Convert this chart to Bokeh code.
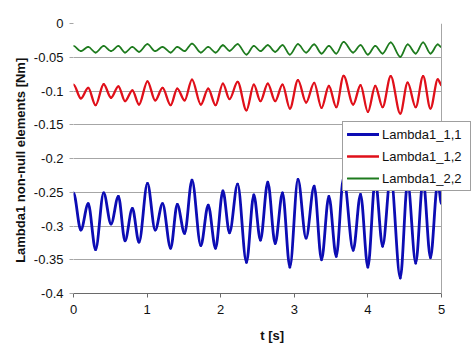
import numpy as np
from bokeh.plotting import figure
from bokeh.models import Range1d, FixedTicker, Span, BoxAnnotation, ColumnDataSource
from bokeh.embed import file_html
from bokeh.resources import INLINE

# time instants (s) of the extrema
t = [0.00, 0.10, 0.20, 0.30, 0.41, 0.51, 0.61, 0.70, 0.80, 0.89,
     1.005, 1.11, 1.21, 1.32, 1.41, 1.51, 1.61, 1.73, 1.83, 1.93,
     2.03, 2.12, 2.23, 2.35, 2.45, 2.54, 2.64, 2.74, 2.84, 2.94,
     3.05, 3.16, 3.27, 3.37, 3.47, 3.57, 3.67, 3.80, 3.90, 4.00,
     4.10, 4.20, 4.31, 4.44, 4.54, 4.65, 4.75, 4.85, 4.95, 5.00]

lambda_11 = [-0.251, -0.306, -0.267, -0.335, -0.251, -0.297, -0.256, -0.322, -0.274, -0.324,
             -0.237, -0.306, -0.267, -0.333, -0.268, -0.311, -0.232, -0.329, -0.269, -0.333,
             -0.248, -0.310, -0.238, -0.354, -0.254, -0.321, -0.235, -0.326, -0.251, -0.361,
             -0.231, -0.318, -0.241, -0.350, -0.256, -0.345, -0.228, -0.336, -0.253, -0.361,
             -0.232, -0.330, -0.225, -0.377, -0.235, -0.355, -0.232, -0.347, -0.235, -0.267]

lambda_12 = [-0.0905, -0.111, -0.0955, -0.121, -0.090, -0.110, -0.093, -0.115, -0.099, -0.120,
             -0.0856, -0.114, -0.0955, -0.121, -0.0965, -0.114, -0.083, -0.120, -0.0965, -0.121,
             -0.089, -0.112, -0.0866, -0.1286, -0.0905, -0.115, -0.089, -0.115, -0.0905, -0.126,
             -0.084, -0.117, -0.088, -0.125, -0.0926, -0.124, -0.0777, -0.120, -0.0915, -0.131,
             -0.0926, -0.124, -0.078, -0.1335, -0.0876, -0.124, -0.078, -0.126, -0.0827, -0.0915]

lambda_22 = [-0.0332, -0.041, -0.0347, -0.043, -0.0332, -0.041, -0.0332, -0.043, -0.0347, -0.042,
             -0.0307, -0.041, -0.0347, -0.043, -0.0347, -0.041, -0.0297, -0.043, -0.0347, -0.043,
             -0.0322, -0.0405, -0.0307, -0.046, -0.0332, -0.041, -0.032, -0.042, -0.032, -0.046,
             -0.0307, -0.043, -0.031, -0.0445, -0.0332, -0.0445, -0.0273, -0.043, -0.032, -0.046,
             -0.0332, -0.0445, -0.028, -0.0495, -0.031, -0.0445, -0.028, -0.0445, -0.031, -0.035]

series_names = ["Lambda1_1,1", "Lambda1_1,2", "Lambda1_2,2"]
x_ticks = [0, 1, 2, 3, 4, 5]
y_ticks = [0, -0.05, -0.1, -0.15, -0.2, -0.25, -0.3, -0.35, -0.4]
y_tick_labels = ["0", "-0.05", "-0.1", "-0.15", "-0.2", "-0.25", "-0.3", "-0.35", "-0.4"]
T_END = 5

FONT = "Liberation Sans"
TXT = "#111111"

# frame runs to the right edge so the legend may overhang the plot area (x = 5)
p = figure(width=474, height=353, output_backend="svg", toolbar_location=None,
           x_range=Range1d(0, T_END * 401 / 368), y_range=Range1d(-0.4, 0),
           min_border_left=73, min_border_right=0, min_border_top=23, min_border_bottom=60)
p.outline_line_color = None
p.background_fill_color = "white"
p.border_fill_color = "white"

# white mask right of the plot area (hides grid lines there)
p.add_layout(BoxAnnotation(left=T_END, fill_color="white", fill_alpha=1.0,
                           line_color=None, level="glyph"))


def smooth_source(vals):
    tt = np.array(t, dtype=float)
    v = np.array(vals, dtype=float)
    t0, t1 = tt[:-1], tt[1:]
    dt = t1 - t0
    return ColumnDataSource(dict(x0=t0, y0=v[:-1], x1=t1, y1=v[1:],
                                 cx0=t0 + dt / 3, cy0=v[:-1], cx1=t1 - dt / 3, cy1=v[1:]))


styles = [("#0c0cb4", 2.8), ("#e0101a", 2.3), ("#1e7b1e", 1.8)]
for vals, name, (col, lw) in zip([lambda_11, lambda_12, lambda_22], series_names, styles):
    p.bezier(x0="x0", y0="y0", x1="x1", y1="y1", cx0="cx0", cy0="cy0", cx1="cx1", cy1="cy1",
             source=smooth_source(vals), line_color=col, line_width=lw, line_cap="round",
             legend_label=name)

# right border of plot area
p.add_layout(Span(location=T_END, dimension="height", line_color="#a6a6a6", line_width=1))

# axes
p.xaxis.ticker = FixedTicker(ticks=x_ticks)
p.xaxis.bounds = (0, T_END)
p.yaxis.ticker = FixedTicker(ticks=y_ticks)
p.yaxis.major_label_overrides = {v: s for v, s in zip(y_ticks, y_tick_labels)}
p.xgrid.grid_line_color = None
p.ygrid.grid_line_color = "#a6a6a6"
p.ygrid.grid_line_width = 1

for ax in (p.xaxis[0], p.yaxis[0]):
    ax.major_label_text_font = FONT
    ax.major_label_text_font_size = "13px"
    ax.major_label_text_color = TXT
    ax.minor_tick_line_color = None
    ax.major_tick_in = 0
    ax.major_tick_out = 4
    ax.axis_label_text_font = FONT
    ax.axis_label_text_font_size = "13px"
    ax.axis_label_text_font_style = "bold"
    ax.axis_label_text_color = TXT

p.xaxis.axis_line_color = "#6a6a6a"
p.xaxis.major_tick_line_color = "#6a6a6a"
p.xaxis.major_label_standoff = 7
p.xaxis.axis_label = "t  [s]"
p.xaxis.axis_label_standoff = 11

p.yaxis.axis_line_color = None
p.yaxis.major_tick_line_color = "#a6a6a6"
p.yaxis.major_label_standoff = 6
p.yaxis.axis_label = "Lambda1  non-null elements [Nm]"
p.yaxis.axis_label_standoff = 3

# legend
lg = p.legend[0]
lg.location = (269, 102)
lg.label_text_font = FONT
lg.label_text_font_size = "13px"
lg.label_text_color = TXT
lg.glyph_width = 32
lg.glyph_height = 16
lg.label_height = 16
lg.label_width = 84
lg.label_standoff = 3
lg.spacing = 6
lg.padding = 4
lg.margin = 0
lg.border_line_color = "#404040"
lg.border_line_width = 1
lg.background_fill_color = "white"
lg.background_fill_alpha = 1.0

open("out.html", "w").write(file_html(p, INLINE))
